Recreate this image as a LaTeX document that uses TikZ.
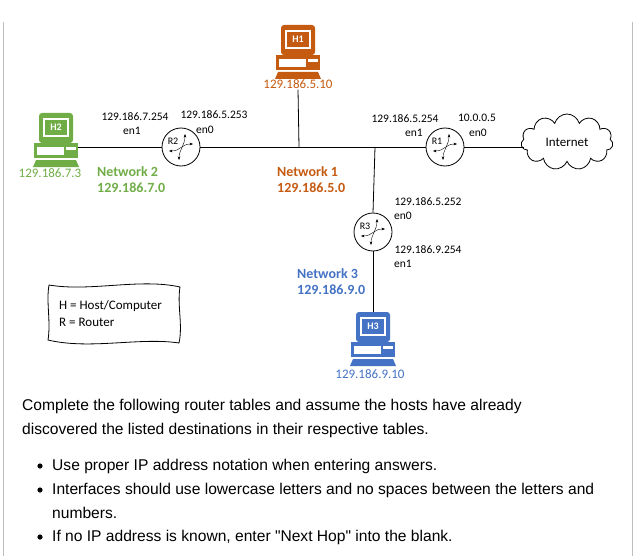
\documentclass[tikz,border=0pt]{standalone}
\usepackage{fontspec}
\setmainfont{Liberation Sans}
\newfontfamily\calib{Carlito}
\usetikzlibrary{shapes.symbols, arrows.meta}
\definecolor{netorange}{RGB}{197, 90, 17}
\definecolor{netgreen}{RGB}{112, 173, 71}
\definecolor{netblue}{RGB}{68, 114, 196}
\definecolor{frame}{RGB}{190, 190, 190}

\tikzset{
  lbl/.style={font=\calib\fontsize{11.5}{13}\selectfont, inner sep=1pt},
  iplbl/.style={font=\calib\fontsize{13}{14}\selectfont, inner sep=1pt},
  netlbl/.style={font=\calib\bfseries\fontsize{14}{16}\selectfont, align=left, inner sep=0pt, anchor=north west},
  router/.style={circle, draw, thick, fill=white, minimum size=38pt, inner sep=0pt},
  host/.style={minimum width=46pt, minimum height=54pt, inner sep=0pt},
  body/.style={font=\fontsize{15.6}{24}\selectfont, anchor=west, inner sep=0pt}
}

% host icon, centre (#1,#2), colour #3, label #4
\newcommand{\hosticon}[4]{
  \begin{scope}[shift={(#1,#2)}]
    \fill [#3, rounded corners=3pt] (-17, -27) rectangle (17, 3);
    \fill [white] (-13, -22) rectangle (13, -3);
    \fill [#3] (-11, -20) rectangle (11, -5);
    \node [font=\calib\bfseries\fontsize{10}{10}\selectfont, text=white] at (0, -13) {#4};
    \fill [#3] (-22, 3) rectangle (22, 18);
    \fill [white] (-19, 7) rectangle (8, 15);
    \fill [white] (10, 7) rectangle (20, 10);
    \fill [#3] (-20, 20) -- (20, 20) -- (23, 27) -- (-23, 27) -- cycle;
  \end{scope}
}

% router arrows inside a circle at node #1
\newcommand{\routerarrows}[1]{
  \begin{scope}[shift={(#1.center)}, {Stealth[length=3.5pt]}-{Stealth[length=3.5pt]}, thin]
    \draw (-12, 4) .. controls (0, 4) and (0, -3) .. (12, -3);
    \draw (-2, 13) .. controls (-2, 3) and (4, -2) .. (4, -13);
  \end{scope}
}

\begin{document}
\begin{tikzpicture}[x=1pt, y=-1pt]
  \useasboundingbox (0, 0) rectangle (644, 556);

  % page frame
  \draw [frame] (3, 22) -- (3, 556);
  \draw [frame] (632, 22) -- (632, 556);

  % hosts
  \hosticon{298}{52}{netorange}{H1}
  \hosticon{56}{140}{netgreen}{H2}
  \hosticon{373}{339}{netblue}{H3}
  \node [host] (h1) at (298, 52) {};
  \node [host] (h2) at (56, 140) {};
  \node [host] (h3) at (373, 339) {};
  \node [iplbl, text=netorange] (ip1) at (298, 84) {129.186.5.10};
  \node [iplbl, text=netgreen] (ip2) at (50, 173) {129.186.7.3};
  \node [iplbl, text=netblue] (ip3) at (370, 374) {129.186.9.10};

  % routers and cloud
  \node [router] (r2) at (181, 147) {};
  \node [router] (r1) at (445, 147) {};
  \node [router] (r3) at (373, 232) {};
  \node [cloud, cloud puffs=11, aspect=1.9, draw, thick, minimum width=92pt, minimum height=56pt,
         font=\calib\fontsize{13}{14}\selectfont] (inet) at (567, 142) {Internet};

  \coordinate (j1) at (299, 147);
  \coordinate (j3) at (375, 147);
  \coordinate (c1) at (524, 147);

  % links
  \draw [thick] (78, 147) -- (r2.west);
  \draw [thick] (r2.east) -- (r1.west);
  \draw [thick] (ip1.south) -- (j1);
  \draw [thick] (j3) -- (r3.north);
  \draw [thick] (r3.south) -- (h3.north);
  \draw [thick] (r1.east) -- (c1);

  \foreach \c/\t in {r2/R2, r1/R1, r3/R3} {
    \routerarrows{\c}
    \node [lbl, font=\calib\fontsize{10}{10}\selectfont, fill=white, inner sep=0pt] at ([shift={(-8, -6)}]\c.center) {\t};
  }

  % interface labels
  \node [lbl] at (135, 117) {129.186.7.254};
  \node [lbl] at (132, 131) {en1};
  \node [lbl] at (214, 115) {129.186.5.253};
  \node [lbl] at (205, 130) {en0};
  \node [lbl] at (405, 119) {129.186.5.254};
  \node [lbl] at (414, 133) {en1};
  \node [lbl] at (477, 118) {10.0.0.5};
  \node [lbl] at (478, 133) {en0};
  \node [lbl] at (428, 202) {129.186.5.252};
  \node [lbl] at (403, 216) {en0};
  \node [lbl] at (428, 250) {129.186.9.254};
  \node [lbl] at (403, 264) {en1};

  % network names
  \node [netlbl, text=netgreen] at (97, 166) {Network 2\\129.186.7.0};
  \node [netlbl, text=netorange] at (277, 166) {Network 1\\129.186.5.0};
  \node [netlbl, text=netblue] at (297, 268) {Network 3\\129.186.9.0};

  % legend
  \draw [thick] (49, 285) .. controls (90, 292) and (140, 278) .. (180, 287)
    .. controls (177, 305) and (183, 325) .. (179, 343)
    .. controls (140, 337) and (90, 350) .. (48, 340)
    .. controls (51, 322) and (46, 302) .. (49, 285);
  \node [iplbl, anchor=west] at (58, 306) {H = Host/Computer};
  \node [iplbl, anchor=west] at (58, 322) {R = Router};

  % text
  \node [body] at (22, 406) {Complete the following router tables and assume the hosts have already};
  \node [body] at (22, 430) {discovered the listed destinations in their respective tables.};
  \foreach \y/\t in {466/Use proper IP address notation when entering answers.,
                     490/Interfaces should use lowercase letters and no spaces between the letters and,
                     537/{If no IP address is known, enter \textquotedbl Next Hop\textquotedbl\ into the blank.}} {
    \fill (40, \y) circle (2.6);
    \node [body] at (52, \y) {\t};
  }
  \node [body] at (52, 513) {numbers.};
\end{tikzpicture}
\end{document}
